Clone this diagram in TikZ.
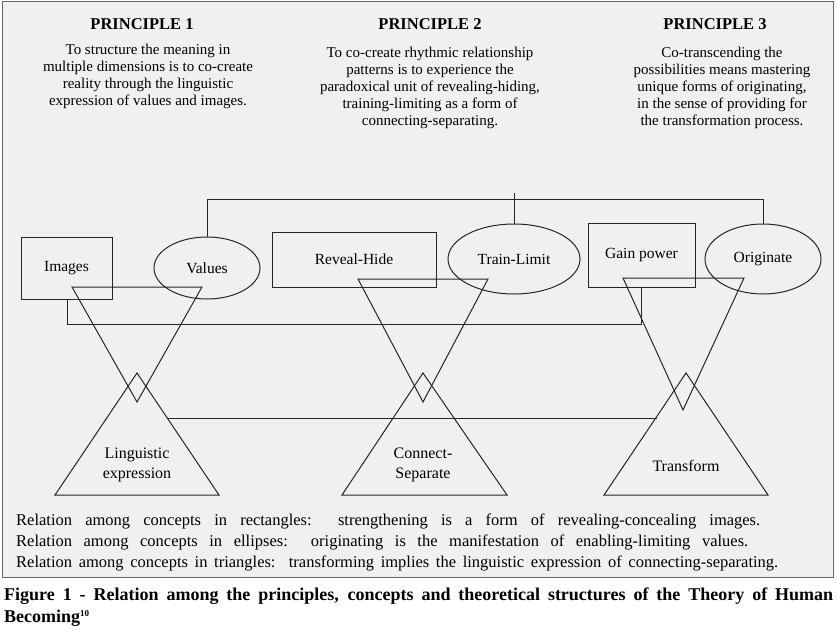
\documentclass[tikz,border=0pt]{standalone}
\usepackage{fontspec}
\setmainfont{Liberation Serif}
\usetikzlibrary{shapes.geometric}
\begin{document}
\begin{tikzpicture}[x=1pt,y=-1pt,
  ln/.style={draw=black!85,line width=1pt},
  rbox/.style={ln,rectangle,inner sep=0pt,font=\fontsize{15.5}{17}\selectfont},
  ell/.style={ln,ellipse,inner sep=0pt,font=\fontsize{15.5}{17}\selectfont},
  head/.style={font=\fontsize{16.5}{18}\selectfont\bfseries},
  body/.style={font=\fontsize{15}{17}\selectfont,align=center},
  lbl/.style={font=\fontsize{16}{20}\selectfont,align=center},
  rel/.style={font=\fontsize{16.5}{18}\selectfont,anchor=west,inner sep=0pt}]
\useasboundingbox (0,0) rectangle (837,634);
\fill[white] (0,0) rectangle (837,634);
\filldraw[fill=black!6,draw=black!60,line width=1pt] (2,2) rectangle (833,577);
% principles
\node[head] (h1) at (142,24) {PRINCIPLE 1};
\node[head] (h2) at (430,24) {PRINCIPLE 2};
\node[head] (h3) at (715,24) {PRINCIPLE 3};
\node[body] (b1) at (148,76) {To structure the meaning in\\multiple dimensions is to co-create\\reality through the linguistic\\expression of values and images.};
\node[body] (b2) at (430,88) {To co-create rhythmic relationship\\patterns is to experience the\\paradoxical unit of revealing-hiding,\\training-limiting as a form of\\connecting-separating.};
\node[body] (b3) at (722,88) {Co-transcending the\\possibilities means mastering\\unique forms of originating,\\in the sense of providing for\\the transformation process.};
% concepts
\node[rbox,minimum width=91,minimum height=62] (img) at (66.5,268) {Images};
\node[ell,minimum width=106,minimum height=62] (val) at (207,268) {Values};
\node[rbox,minimum width=164,minimum height=55] (rev) at (354,259.5) {Reveal-Hide};
\node[ell,minimum width=132,minimum height=70] (tra) at (514,259) {Train-Limit};
\node[rbox,minimum width=107,minimum height=64] (gai) at (641.5,255) {};
\node[font=\fontsize{15.5}{17}\selectfont] (gait) at (641.5,255) {Gain power};
\node[ell,minimum width=116,minimum height=70] (ori) at (763,259) {Originate};
% inverted triangles
\coordinate (t1a) at (72,287); \coordinate (t1b) at (202,287); \coordinate (t1c) at (137,402);
\coordinate (t2a) at (358,279); \coordinate (t2b) at (488,279); \coordinate (t2c) at (423,402);
\coordinate (t3a) at (623,278); \coordinate (t3b) at (744,278); \coordinate (t3c) at (683,410);
\draw[ln] (t1a)--(t1b)--(t1c)--cycle;
\draw[ln] (t2a)--(t2b)--(t2c)--cycle;
\draw[ln] (t3a)--(t3b)--(t3c)--cycle;
% upward triangles
\coordinate (u1a) at (137,373); \coordinate (u1b) at (55,495); \coordinate (u1c) at (219,495);
\coordinate (u2a) at (423,373); \coordinate (u2b) at (342,495); \coordinate (u2c) at (507,495);
\coordinate (u3a) at (686,373); \coordinate (u3b) at (604,495); \coordinate (u3c) at (768,495);
\draw[ln] (u1a)--(u1b)--(u1c)--cycle;
\draw[ln] (u2a)--(u2b)--(u2c)--cycle;
\draw[ln] (u3a)--(u3b)--(u3c)--cycle;
\node[lbl] (le) at (137,465) {Linguistic\\expression};
\node[lbl] (cs) at (423,465) {Connect-\\Separate};
\node[lbl] (tf) at (686,466) {Transform};
% connectors
\coordinate (k1) at (207,199); \coordinate (k2) at (763,199); \coordinate (k3) at (514,193);
\draw[ln] (val.north) -- (k1) -- (k2) -- (ori.north);
\draw[ln] (tra.north) -- (k3);
\coordinate (m1) at (67,324); \coordinate (m2) at (641,324);
\draw[ln] (img.south -| m1) -- (m1) -- (m2) -- (gai.south -| m2);
\coordinate (n1) at (167,418); \coordinate (n2) at (657,418);
\draw[ln] (n1) -- (n2);
% relations
\node[rel] (r1) at (16,521) {\makebox[744pt][s]{Relation among concepts in rectangles:\ \ strengthening is a form of revealing-concealing images.}};
\node[rel] (r2) at (16,542) {\makebox[732pt][s]{Relation among concepts in ellipses:\ \ originating is the manifestation of enabling-limiting values.}};
\node[rel] (r3) at (16,563) {\makebox[762pt][s]{Relation among concepts in triangles:\ \ transforming implies the linguistic expression of connecting-separating.}};
\node[anchor=north west,font=\fontsize{18}{22}\selectfont\bfseries,align=justify,text width=829,inner sep=0pt] (cap) at (4,588) {Figure 1 - Relation among the principles, concepts and theoretical structures of the Theory of Human Becoming\textsuperscript{\fontsize{9}{9}\selectfont 10}};
\end{tikzpicture}
\end{document}
